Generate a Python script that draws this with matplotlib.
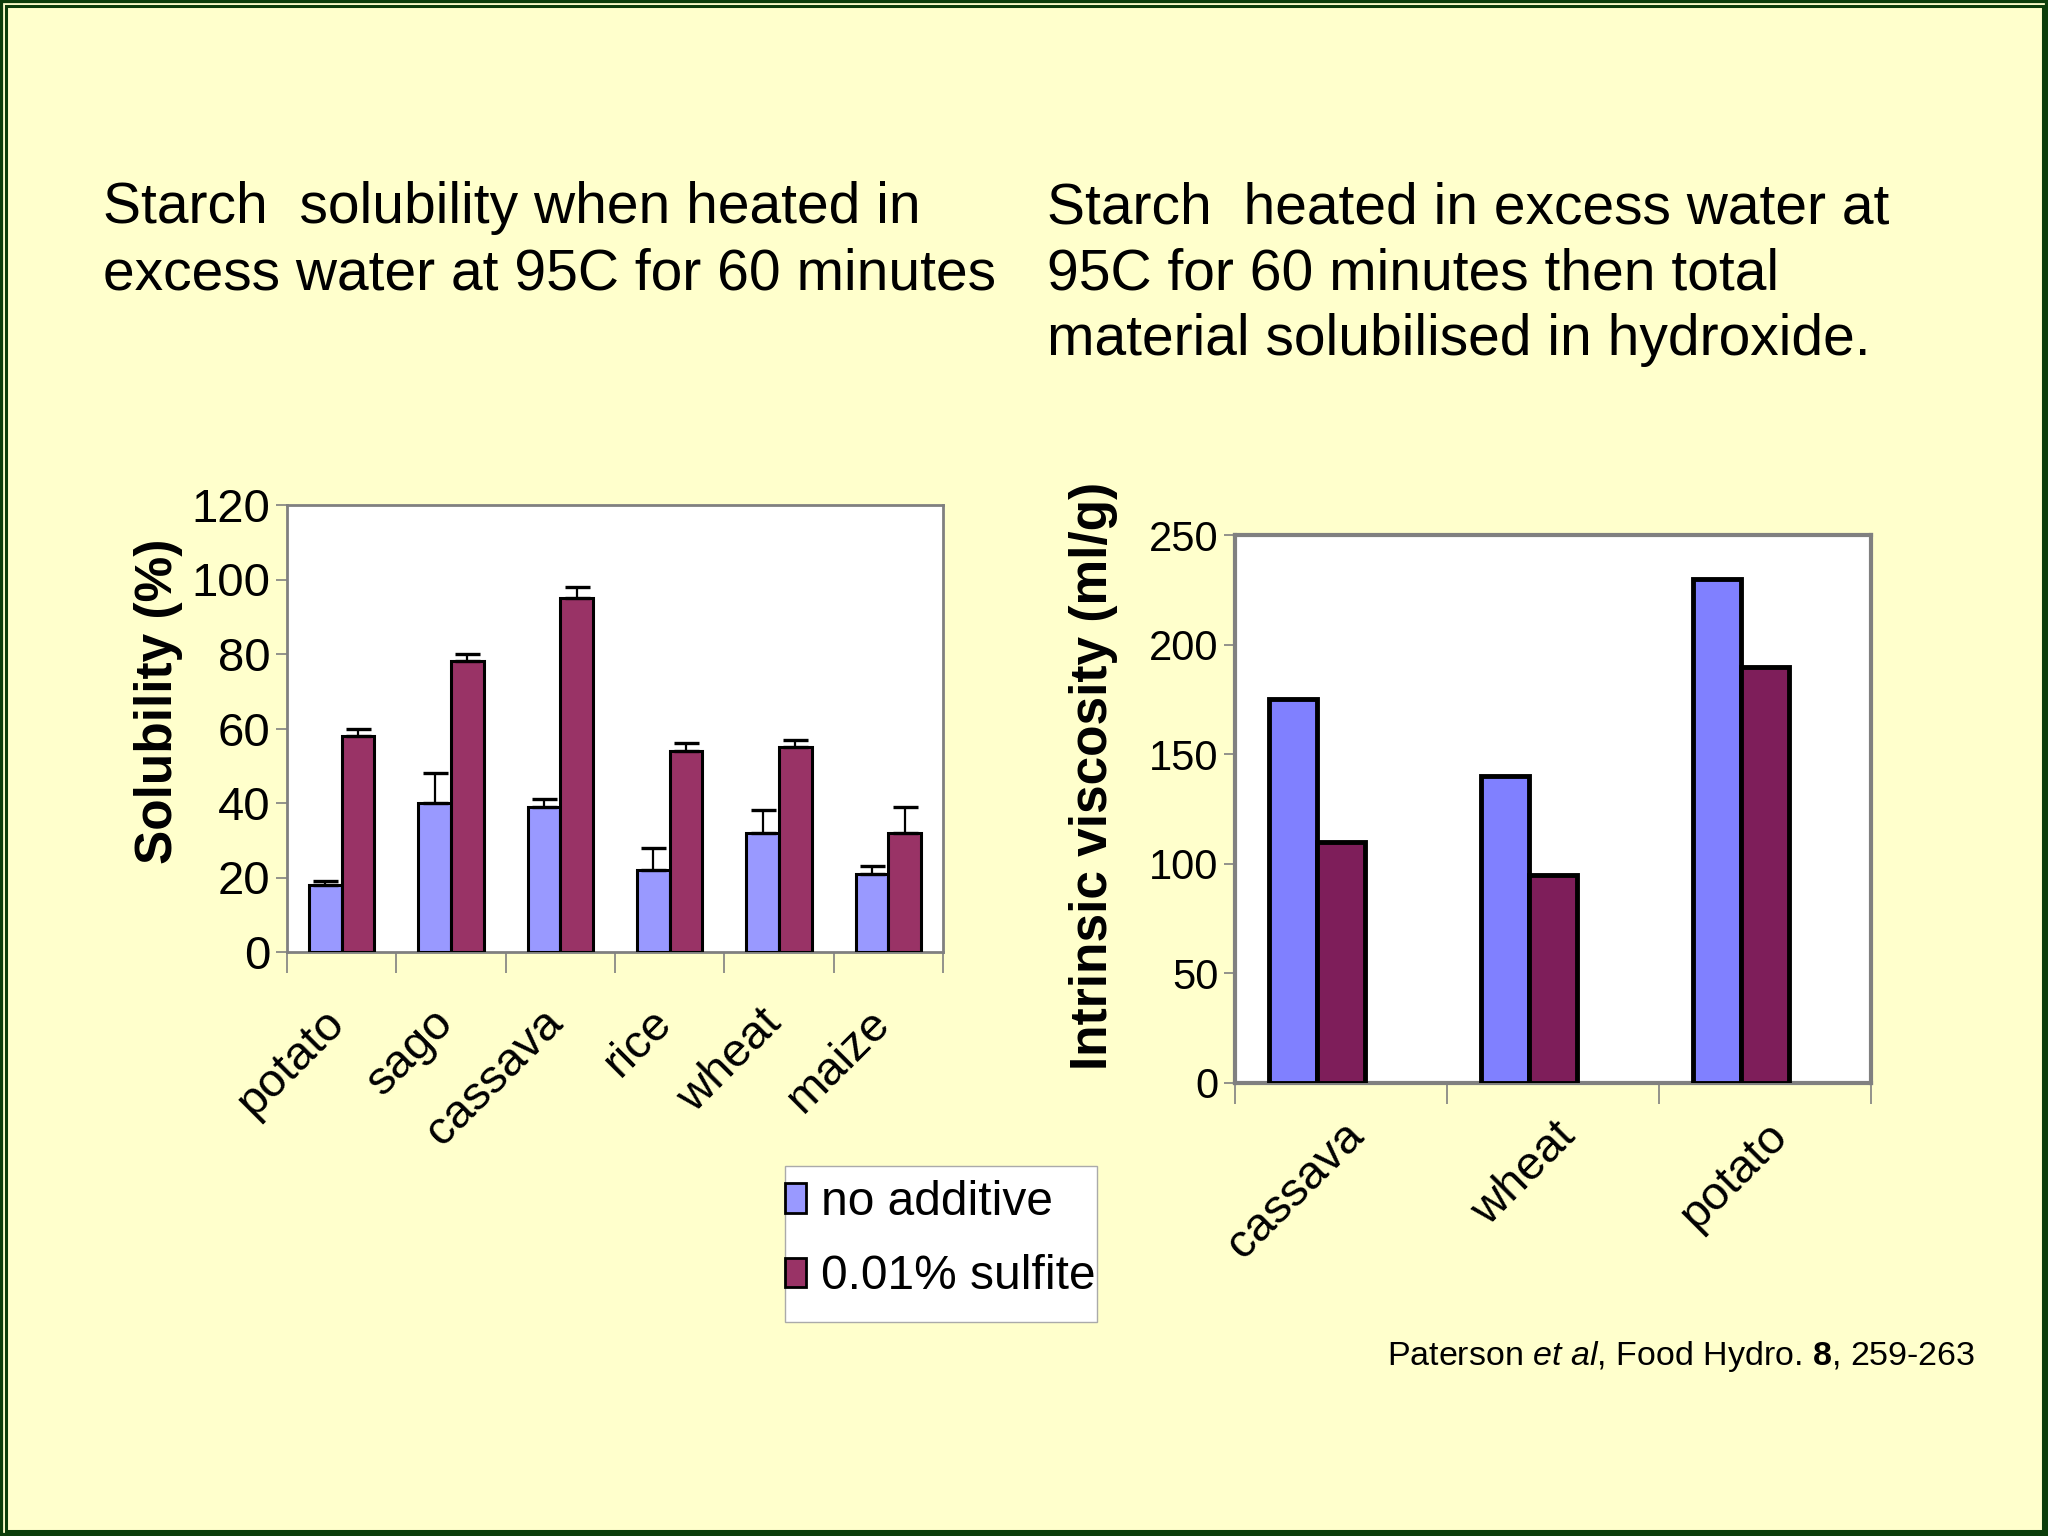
import numpy as np
import matplotlib.pyplot as plt
from matplotlib.patches import Rectangle
from matplotlib.transforms import ScaledTranslation

plt.rcParams['font.family'] = ['Liberation Sans', 'DejaVu Sans']
plt.rcParams['mathtext.fontset'] = 'custom'
plt.rcParams['mathtext.rm'] = 'Liberation Sans'
plt.rcParams['mathtext.it'] = 'Liberation Sans:italic'
plt.rcParams['mathtext.bf'] = 'Liberation Sans:bold'

# left chart: solubility
sol_cats = ['potato', 'sago', 'cassava', 'rice', 'wheat', 'maize']
sol_none = [18, 40, 39, 22, 32, 21]
sol_none_err = [1, 8, 2, 6, 6, 2]
sol_sulf = [58, 78, 95, 54, 55, 32]
sol_sulf_err = [2, 2, 3, 2, 2, 7]

# right chart: intrinsic viscosity
vis_cats = ['cassava', 'wheat', 'potato']
vis_none = [175, 140, 230]
vis_sulf = [110, 95, 190]

series_names = ['no additive', '0.01% sulfite']

bg = '#ffffcc'
grey = '#808080'

fig = plt.figure(figsize=(20.48, 15.36), dpi=100, facecolor=bg)

# double green border
fig.patches.append(Rectangle((0, 0), 1, 1, transform=fig.transFigure, fill=False,
                             edgecolor='#0b3d0b', linewidth=4.5, zorder=10))
fig.patches.append(Rectangle((5.5 / 2048, 5.5 / 1536), 1 - 11 / 2048, 1 - 11 / 1536,
                             transform=fig.transFigure, fill=False,
                             edgecolor='#0b3d0b', linewidth=2.2, zorder=10))

fig.text(103 / 2048, 0.882, 'Starch  solubility when heated in\nexcess water at 95C for 60 minutes',
         fontsize=41, ha='left', va='top', linespacing=1.28)
fig.text(1047 / 2048, 0.882, 'Starch  heated in excess water at\n95C for 60 minutes then total\nmaterial solubilised in hydroxide.',
         fontsize=41, ha='left', va='top', linespacing=1.28)


def style_axes(ax, n, ymax, ystep, yticksize, xticksize, spine_lw, labels, dx, dy):
    ax.set_facecolor('white')
    for s in ax.spines.values():
        s.set_color(grey)
        s.set_linewidth(spine_lw)
    ax.set_xlim(0, n)
    ax.set_ylim(0, ymax)
    ax.set_yticks(np.arange(0, ymax + 1, ystep))
    ax.tick_params(axis='y', direction='out', length=8, width=1.2, color=grey,
                   labelsize=yticksize, pad=4)
    ax.set_xticks(np.arange(n) + 0.5)
    ax.set_xticks(np.arange(n + 1), minor=True)
    ax.tick_params(axis='x', which='major', length=0, pad=22)
    ax.tick_params(axis='x', which='minor', direction='out', length=15, width=1.2,
                   color=grey)
    ax.set_xticklabels(labels, rotation=45, ha='right', va='top',
                       rotation_mode='anchor', fontsize=xticksize)
    shift = ScaledTranslation(dx / 100, dy / 100, fig.dpi_scale_trans)
    for lab in ax.get_xticklabels():
        lab.set_transform(lab.get_transform() + shift)


# left axes
ax1 = fig.add_axes([287 / 2048, 1 - 952 / 1536, 656 / 2048, 447 / 1536])
x1 = np.arange(len(sol_cats)) + 0.5
w1 = 0.3
ax1.bar(x1 - w1 / 2, sol_none, w1, color='#9999ff', edgecolor='black', linewidth=2.2,
        label=series_names[0], zorder=3)
ax1.bar(x1 + w1 / 2, sol_sulf, w1, color='#993366', edgecolor='black', linewidth=2.2,
        label=series_names[1], zorder=3)
ax1.errorbar(x1 - w1 / 2, sol_none, yerr=[np.zeros(len(sol_none)), sol_none_err],
             fmt='none', ecolor='black', elinewidth=1.6, capsize=9, capthick=2.4, zorder=4)
ax1.errorbar(x1 + w1 / 2, sol_sulf, yerr=[np.zeros(len(sol_sulf)), sol_sulf_err],
             fmt='none', ecolor='black', elinewidth=1.6, capsize=9, capthick=2.4, zorder=4)
style_axes(ax1, len(sol_cats), 120, 20, 34, 34, 2.0, sol_cats, -20, -18)
ax1.set_ylabel('Solubility (%)', fontsize=37, fontweight='bold')
ax1.yaxis.set_label_coords(-0.159, 0.56)

# legend box drawn separately so the swatches sit on its left edge
fig.patches.append(Rectangle((785 / 2048, 1 - 1322 / 1536), 312 / 2048, 156 / 1536,
                             transform=fig.transFigure, facecolor='white',
                             edgecolor='#aaaaaa', linewidth=1.0, zorder=-1))
leg = ax1.legend(loc='upper left', bbox_to_anchor=(785 / 2048, 1 - 1180 / 1536),
                 bbox_transform=fig.transFigure, fontsize=34.5, frameon=False,
                 handlelength=0.43, handleheight=0.57, handletextpad=0.32,
                 labelspacing=0.61, borderpad=0, borderaxespad=0)
for p in leg.get_patches():
    p.set_linewidth(2.0)

# right axes
ax2 = fig.add_axes([1235 / 2048, 1 - 1083 / 1536, 636 / 2048, 548 / 1536])
x2 = np.arange(len(vis_cats)) + 0.5
w2 = 0.225
ax2.bar(x2 - w2, vis_none, w2, color='#8080ff', edgecolor='black', linewidth=3.5, zorder=3)
ax2.bar(x2, vis_sulf, w2, color='#7e1e5a', edgecolor='black', linewidth=3.5, zorder=3)
style_axes(ax2, len(vis_cats), 250, 50, 30, 34, 3.0, vis_cats, 0, 0)
ax2.set_ylabel('Intrinsic viscosity (ml/g)', fontsize=37, fontweight='bold')
ax2.yaxis.set_label_coords(-0.184, 0.56)

fig.text(1975 / 2048, 1 - 1365 / 1536, r'Paterson $\it{et\ al}$, Food Hydro. $\bf{8}$, 259-263',
         fontsize=24.5, ha='right', va='baseline')

fig.savefig('out.png', dpi=100, facecolor=bg)
